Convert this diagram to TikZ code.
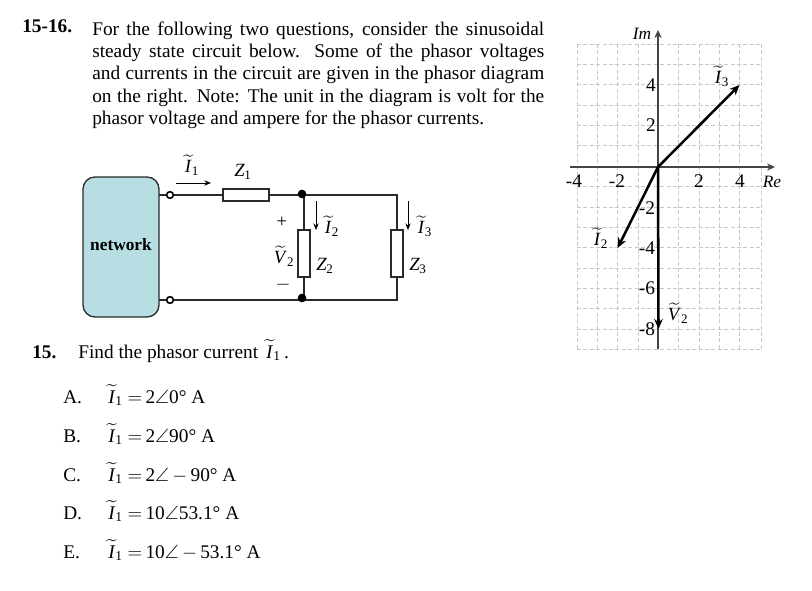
\documentclass[tikz,border=0pt]{standalone}
\usepackage{amsmath,amssymb}
\usepackage{fontspec}
\setmainfont{Liberation Serif}
\usetikzlibrary{arrows.meta,positioning}
\newcommand{\tld}[2]{\ensuremath{\widetilde{\text{\textit{#1}}}_{\text{#2}}}}
\newcommand{\zz}[1]{\textit{Z}\textsubscript{\kern-0.5pt#1}}
\newcommand{\optI}{\ensuremath{\widetilde{\text{\textit{I}}}_{\text{1}}}}
\definecolor{netfill}{HTML}{B7DEE3}
\definecolor{wirec}{HTML}{2A2A2A}
\definecolor{gridc}{HTML}{C8C8C8}
\definecolor{axisc}{HTML}{444444}
\tikzset{
  x=0.75pt,y=-0.75pt,
  txt/.style={inner sep=0pt,anchor=base west,font=\fontsize{14.5}{16.7}\selectfont},
  lbl/.style={inner sep=0pt,font=\fontsize{14}{16}\selectfont},
  tick/.style={inner sep=0pt,font=\fontsize{14.5}{16}\selectfont},
  wire/.style={draw=wirec,line width=1pt},
  res/.style={draw=wirec,line width=1pt,fill=white,inner sep=0pt,rectangle},
  term/.style={circle,draw=black,line width=1.2pt,fill=white,minimum size=5pt,inner sep=0pt},
  dot/.style={circle,fill=black,minimum size=6.5pt,inner sep=0pt},
  cur/.style={draw=black,line width=0.7pt,-{Stealth[length=5pt,width=4pt]}},
  griddash/.style={draw=gridc,line width=0.6pt,dash pattern=on 3pt off 1.8pt},
  axisln/.style={draw=axisc,line width=0.9pt,-{Stealth[length=6pt,width=5.5pt]}},
  phasor/.style={draw=black,line width=1.9pt,-{Stealth[length=7.5pt,width=6.5pt]}}
}
\begin{document}
\begin{tikzpicture}
\useasboundingbox (0,0) rectangle (812,591);
% text block
\node[txt,font=\fontsize{14.5}{16.7}\selectfont\bfseries] (qq) at (22,33) {15-16.};
\node[txt,anchor=north west,text width=339pt,align=justify] (para) at (92,21.5) {For the following two questions, consider the sinusoidal\linebreak steady state circuit below. Some of the phasor voltages\linebreak and currents in the circuit are given in the phasor diagram\linebreak on the right. Note: The unit in the diagram is volt for the\linebreak phasor voltage and ampere for the phasor currents.};
% circuit
\node[draw=wirec,line width=1pt,fill=netfill,rounded corners=9pt,minimum width=57pt,minimum height=105pt,inner sep=0pt] (net) at (121,247) {};
\node[inner sep=0pt,font=\fontsize{13}{15}\selectfont\bfseries] (netl) at (121,245) {network};
\node[term] (ta) at (170,195) {};
\node[term] (tb) at (170,300) {};
\node[res,minimum width=34.5pt,minimum height=9pt] (z1) at (246,195) {};
\node[res,minimum width=9pt,minimum height=35pt] (z2) at (304,253.5) {};
\node[res,minimum width=9pt,minimum height=35pt] (z3) at (397,253.5) {};
\coordinate (naT) at (159,195);
\coordinate (naB) at (159,300);
\coordinate (j1) at (304,195);
\coordinate (j2) at (304,300);
\coordinate (cr1) at (397,195);
\coordinate (cr2) at (397,300);
\draw[wire] (naT) -- (ta);
\draw[wire] (naB) -- (tb);
\draw[wire] (ta) -- (z1);
\draw[wire] (z1) -- (j1) -- (cr1) -- (z3);
\draw[wire] (z3) -- (cr2) -- (j2) -- (tb);
\draw[wire] (j1) -- (z2);
\draw[wire] (z2) -- (j2);
\node[dot] (d1) at (302,194) {};
\node[dot] (d2) at (302,298) {};
\coordinate (a1s) at (176,183); \coordinate (a1e) at (211,183);
\coordinate (a2s) at (316,201); \coordinate (a2e) at (316,230);
\coordinate (a3s) at (408,201); \coordinate (a3e) at (408,230);
\draw[cur] (a1s) -- (a1e);
\draw[cur] (a2s) -- (a2e);
\draw[cur] (a3s) -- (a3e);
\node[lbl] (li1) at (192,165) {\tld{I}{1}};
\node[lbl] (lz1) at (243,172) {\zz{1}};
\node[lbl] (lplus) at (282,222) {+};
\node[lbl] (lminus) at (283,285) {$-$};
\node[lbl] (lv2) at (284,256) {\tld{V}{2}};
\node[lbl] (li2) at (332,226) {\tld{I}{2}};
\node[lbl] (li3) at (425,226) {\tld{I}{3}};
\node[lbl] (lz2) at (325,266) {\zz{2}};
\node[lbl] (lz3) at (418,266) {\zz{3}};
% phasor diagram
\foreach \xx in {577,597.3,617.6,637.9,678.6,698.9,719.2,739.5,761}{\draw[griddash] (\xx,44) -- (\xx,349);}
\foreach \yy in {44,64.3,84.6,105,125.3,145.6,186.9,207.2,227.5,247.8,268.2,288.5,308.8,329.1,349}{\draw[griddash] (577,\yy) -- (761,\yy);}
\coordinate (ox) at (658,167);
\coordinate (xa) at (570,167);
\coordinate (xb) at (775,167);
\coordinate (ya) at (658,349);
\coordinate (yb) at (658,30);
\draw[axisln] (xa) -- (xb);
\draw[axisln] (ya) -- (yb);
\coordinate (pi3) at (739.5,85);
\coordinate (pi2) at (617.6,248);
\coordinate (pv2) at (658.5,329);
\draw[phasor] (ox) -- (pi3);
\draw[phasor] (ox) -- (pi2);
\draw[phasor] (ox) -- (pv2);
\node[lbl,font=\fontsize{13}{15}\selectfont\itshape] (lim) at (642,34) {Im};
\node[lbl,font=\fontsize{13}{15}\selectfont\itshape] (lre) at (772,181.5) {Re};
\node[tick] (tm4) at (574,181) {-4};
\node[tick] (tm2) at (617,181) {-2};
\node[tick] (tp2) at (699,181) {2};
\node[tick] (tp4) at (740,181) {4};
\node[tick] (t4) at (651,85) {4};
\node[tick] (t2) at (651,125) {2};
\node[tick] (tn2) at (647,208) {-2};
\node[tick] (tn4) at (647,248) {-4};
\node[tick] (tn6) at (647,288) {-6};
\node[tick] (tn8) at (647,329) {-8};
\node[lbl] (pli3) at (722,76) {\tld{I}{3}};
\node[lbl] (pli2) at (601,238) {\tld{I}{2}};
\node[lbl] (plv2) at (678,313) {\tld{V}{2}};
% question
\node[txt,font=\fontsize{14.5}{16.7}\selectfont\bfseries] (q15) at (32,358) {15.};
\node[txt] (qtext) at (78,358) {Find the phasor current \,\tld{I}{1}\,.};
\node[txt] (oa) at (63,403) {A.};
\node[txt] (ob) at (63,442) {B.};
\node[txt] (oc) at (63,481) {C.};
\node[txt] (od) at (63,519) {D.};
\node[txt] (oe) at (63,558) {E.};
\node[txt] (ea) at (108,403) {\optI\ $=$\,2$\angle$0° A};
\node[txt] (eb) at (108,442) {\optI\ $=$\,2$\angle$90° A};
\node[txt] (ec) at (108,481) {\optI\ $=$\,2$\angle$\,$-$\,90° A};
\node[txt] (ed) at (108,519) {\optI\ $=$\,10$\angle$53.1° A};
\node[txt] (ee) at (108,558) {\optI\ $=$\,10$\angle$\,$-$\,53.1° A};
\end{tikzpicture}
\end{document}
